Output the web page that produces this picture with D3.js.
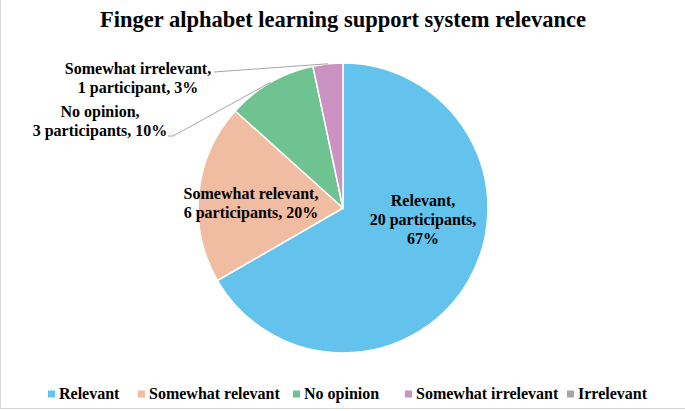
<!DOCTYPE html>
<html>
<head>
<meta charset="utf-8">
<script src="https://cdn.jsdelivr.net/npm/d3@7"></script>
<style>
    body { margin: 0; background: #fff; }
    text { font-family: "Liberation Serif", "Times New Roman", serif; font-weight: bold; fill: #000; }
</style>
</head>
<body>
<svg id="chart" width="685" height="411"></svg>
<script>
const categories = ["Relevant", "Somewhat relevant", "No opinion", "Somewhat irrelevant", "Irrelevant"];
const participants = [20, 6, 3, 1, 0];
const percentLabels = ["67%", "20%", "10%", "3%", "0%"];
const colors = ["#63c3ec", "#f0bca2", "#6fc391", "#cc92c2", "#a6a6a6"];

const width = 685, height = 411;
const cx = 343, cy = 208, radius = 145;

const svg = d3.select("#chart");

// frame (only left and bottom edges show in the picture)
svg.append("line").attr("x1", 0.5).attr("y1", 0).attr("x2", 0.5).attr("y2", 408.5)
    .attr("stroke", "#d9d9d9");
svg.append("line").attr("x1", 0).attr("y1", 408.5).attr("x2", width).attr("y2", 408.5)
    .attr("stroke", "#d9d9d9");

svg.append("text")
    .attr("x", cx)
    .attr("y", 27)
    .attr("text-anchor", "middle")
    .style("font-size", "22.5px")
    .text("Finger alphabet learning support system relevance");

const pie = d3.pie().sort(null).value(d => d);
const arcs = pie(participants);
const arc = d3.arc().innerRadius(0).outerRadius(radius);
const edge = d3.arc().innerRadius(radius).outerRadius(radius);

const g = svg.append("g").attr("transform", `translate(${cx},${cy})`);

g.selectAll("path")
    .data(arcs.filter(d => d.value > 0))
    .enter()
    .append("path")
    .attr("d", arc)
    .attr("fill", d => colors[d.index])
    .attr("stroke", "#fff")
    .attr("stroke-width", 1.5);

const labelText = (i) => {
    const n = participants[i];
    return [`${categories[i]},`, `${n} participant${n === 1 ? "" : "s"}, ${percentLabels[i]}`];
};

// label layout: offsets from pie centre, line breaks, leader line end
const labelLayout = [
    { dx: 80, dy: -7, lines: () => [`${categories[0]},`, `${participants[0]} participants,`, percentLabels[0]] },
    { dx: -92, dy: -14, lines: () => labelText(1) },
    { dx: -243, dy: -96, lines: () => labelText(2), leader: [[-170, -72], [-175, -72]] },
    { dx: -205, dy: -139, lines: () => labelText(3), leader: [[-129, -136]] }
];

labelLayout.forEach((l, i) => {
    const t = g.append("text")
        .attr("text-anchor", "middle")
        .style("font-size", "16px");
    l.lines().forEach((line, j) => {
        t.append("tspan")
            .attr("x", l.dx)
            .attr("y", l.dy + j * 19 + 5)
            .text(line);
    });
    if (l.leader) {
        const p = edge.centroid(arcs[i]);
        g.append("polyline")
            .attr("points", [p].concat(l.leader).map(q => q.join(",")).join(" "))
            .attr("fill", "none")
            .attr("stroke", "#a6a6a6")
            .attr("stroke-width", 1);
    }
});

// legend
const legendX = [48, 138, 293, 405, 567];
const legend = svg.append("g");
categories.forEach((c, i) => {
    legend.append("rect")
        .attr("x", legendX[i])
        .attr("y", 390.5)
        .attr("width", 7)
        .attr("height", 7)
        .attr("fill", colors[i]);
    legend.append("text")
        .attr("x", legendX[i] + 11)
        .attr("y", 399)
        .style("font-size", "16px")
        .text(c);
});
</script>
</body>
</html>
